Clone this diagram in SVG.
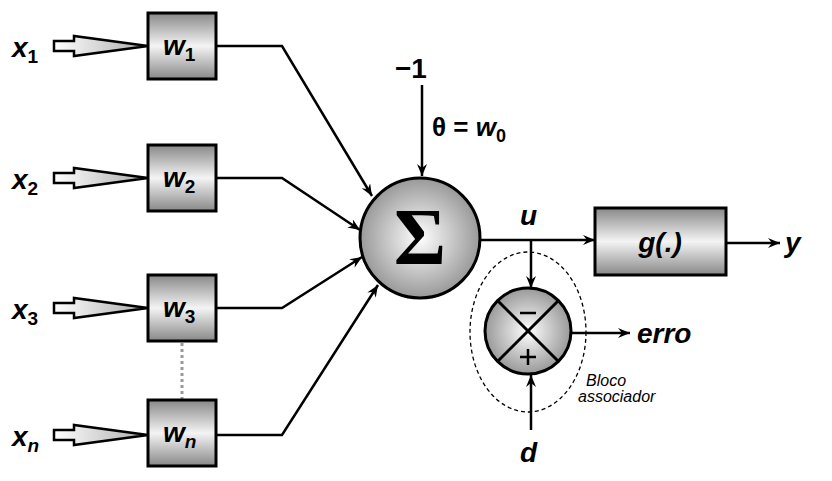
<svg xmlns="http://www.w3.org/2000/svg" width="832" height="481" viewBox="0 0 832 481">
<defs>
<linearGradient id="bg" x1="0" y1="0" x2="0" y2="1">
<stop offset="0" stop-color="#888"/><stop offset="0.5" stop-color="#f4f4f4"/><stop offset="1" stop-color="#888"/>
</linearGradient>
<radialGradient id="rg"><stop offset="0" stop-color="#fff"/><stop offset="1" stop-color="#999"/></radialGradient>
<linearGradient id="ag" x1="0" y1="0" x2="1" y2="0"><stop offset="0" stop-color="#fff"/><stop offset="1" stop-color="#aaa"/></linearGradient>
<marker id="ar" viewBox="0 0 12 10" refX="12" refY="5" markerWidth="12" markerHeight="10" markerUnits="userSpaceOnUse" orient="auto"><path d="M0,0 L12,5 L0,10 L4,5 Z" fill="#000"/></marker>
</defs>
<style>
.box{fill:url(#bg);stroke:#000;stroke-width:3}
.ln{fill:none;stroke:#000;stroke-width:2.5}
.t{font-family:"Liberation Sans",Arial,sans-serif;font-weight:bold;font-style:italic;fill:#000}
.hol{fill:url(#ag);stroke:#000;stroke-width:2.5}
</style>
<rect width="832" height="481" fill="#fff"/>
<g id="connectors">
<path class="ln" d="M216,46 H282 L372,196" marker-end="url(#ar)"/>
<path class="ln" d="M216,178 H282 L360,230" marker-end="url(#ar)"/>
<path class="ln" d="M216,308 H282 L362,257" marker-end="url(#ar)"/>
<path class="ln" d="M216,435 H282 L378,285" marker-end="url(#ar)"/>
<path class="ln" d="M422,85 V176" marker-end="url(#ar)"/>
<path class="ln" d="M480,240 H595" marker-end="url(#ar)"/>
<path class="ln" d="M726,243 H780" marker-end="url(#ar)"/>
<path class="ln" d="M531,240 V288" marker-end="url(#ar)"/>
<path class="ln" d="M572,333 H630" marker-end="url(#ar)"/>
<path class="ln" d="M531,430 V375" marker-end="url(#ar)"/>
<line x1="182" y1="343" x2="182" y2="400" stroke="#999" stroke-width="3" stroke-dasharray="3,3"/>
<g id="inputs">
<path class="hol" d="M54,41 H74 V36 L148,46 L74,56 V51 H54 Z"/>
<path class="hol" d="M54,173 H74 V168 L148,178 L74,188 V183 H54 Z"/>
<path class="hol" d="M54,303 H74 V298 L148,308 L74,318 V313 H54 Z"/>
<path class="hol" d="M54,430 H74 V425 L148,435 L74,445 V440 H54 Z"/>
</g>
</g>
<g id="x-labels" class="t">
<text x="12" y="57" font-size="28">x<tspan font-size="19" font-style="normal" dy="6">1</tspan></text>
<text x="12" y="189" font-size="28">x<tspan font-size="19" font-style="normal" dy="6">2</tspan></text>
<text x="12" y="319" font-size="28">x<tspan font-size="19" font-style="normal" dy="6">3</tspan></text>
<text x="12" y="446" font-size="28">x<tspan font-size="19" dy="6">n</tspan></text>
</g>
<g id="w1"><rect class="box" x="148" y="13" width="68" height="66"/><text class="t" x="163" y="55" font-size="28">w<tspan font-size="19" font-style="normal" dy="6">1</tspan></text></g>
<g id="w2"><rect class="box" x="148" y="145" width="68" height="66"/><text class="t" x="163" y="187" font-size="28">w<tspan font-size="19" font-style="normal" dy="6">2</tspan></text></g>
<g id="w3"><rect class="box" x="148" y="275" width="68" height="66"/><text class="t" x="163" y="317" font-size="28">w<tspan font-size="19" font-style="normal" dy="6">3</tspan></text></g>
<g id="wn"><rect class="box" x="148" y="400" width="68" height="66"/><text class="t" x="163" y="442" font-size="28">w<tspan font-size="19" dy="6">n</tspan></text></g>
<g id="sum"><circle cx="420" cy="238" r="60" fill="url(#rg)" stroke="#000" stroke-width="3"/>
<text x="420" y="264" text-anchor="middle" font-family="'Liberation Serif','Times New Roman',serif" font-weight="bold" font-size="80">Σ</text></g>
<g id="bias" class="t"><text x="395" y="78" font-size="28" font-style="normal">−1</text>
<text x="432" y="136" font-size="26" font-style="normal">θ = <tspan font-style="italic">w</tspan><tspan font-size="18" dy="6">0</tspan></text></g>
<text class="t" x="520" y="225" font-size="28">u</text>
<g id="g"><rect class="box" x="595" y="208" width="131" height="67"/><text class="t" x="660" y="252" text-anchor="middle" font-size="28">g(.)</text></g>
<text class="t" x="785" y="252" font-size="28">y</text>
<g id="comparator">
<ellipse cx="528" cy="332" rx="58" ry="80" fill="none" stroke="#000" stroke-width="1.3" stroke-dasharray="4,3"/>
<circle cx="528" cy="331" r="43" fill="url(#rg)" stroke="#000" stroke-width="3"/>
<path d="M498,301 L558,361 M558,301 L498,361" stroke="#000" stroke-width="3"/>
<path d="M520,313 H536" stroke="#000" stroke-width="2.5"/>
<path d="M520,357 H536 M528,349 V365" stroke="#000" stroke-width="2.5"/>
</g>
<text class="t" x="637" y="343" font-size="28">erro</text>
<text class="t" x="520" y="462" font-size="28">d</text>
<text x="586" y="386" font-family="'Liberation Sans',Arial,sans-serif" font-style="italic" font-size="16">Bloco</text>
<text x="578" y="402" font-family="'Liberation Sans',Arial,sans-serif" font-style="italic" font-size="16">associador</text>
</svg>
